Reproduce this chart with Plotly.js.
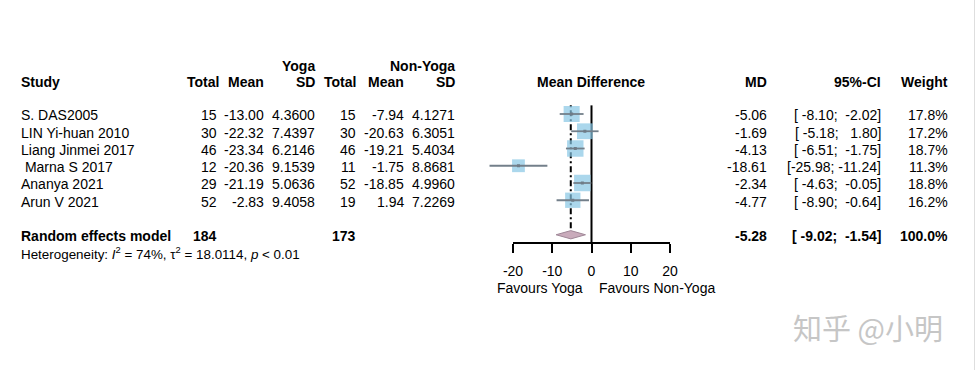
<!DOCTYPE html>
<html>
<head>
<meta charset="utf-8">
<script src="https://cdn.plot.ly/plotly-3.0.1.min.js"></script>
<style>html,body{margin:0;padding:0;background:#fff;}#chart{width:976px;height:370px;}</style>
</head>
<body>
<div id="chart"></div>
<script>
// ---- data ----
const studies = ['S. DAS2005', 'LIN Yi-huan 2010', 'Liang Jinmei 2017', '\u00a0Marna S 2017', 'Ananya 2021', 'Arun V 2021'];
const yogaTotal = [15, 30, 46, 12, 29, 52];
const yogaMean = [-13.00, -22.32, -23.34, -20.36, -21.19, -2.83];
const yogaSD = [4.3600, 7.4397, 6.2146, 9.1539, 5.0636, 9.4058];
const ctrlTotal = [15, 30, 46, 11, 52, 19];
const ctrlMean = [-7.94, -20.63, -19.21, -1.75, -18.85, 1.94];
const ctrlSD = [4.1271, 6.3051, 5.4034, 8.8681, 4.9960, 7.2269];
const md = [-5.06, -1.69, -4.13, -18.61, -2.34, -4.77];
const ciLow = [-8.10, -5.18, -6.51, -25.98, -4.63, -8.90];
const ciHigh = [-2.02, 1.80, -1.75, -11.24, -0.05, -0.64];
const weight = [17.8, 17.2, 18.7, 11.3, 18.8, 16.2];
const pooledMD = -5.28, pooledLow = -9.02, pooledHigh = -1.54, pooledWeight = 100.0;
const totalYoga = 184, totalCtrl = 173;
const xTicks = [-20, -10, 0, 10, 20];
const heterogeneity = 'Heterogeneity: <i>I</i><sup>2</sup> = 74%, \u03c4<sup>2</sup> = 18.0114, <i>p</i> &lt; 0.01';

// ---- layout helpers ----
const W = 976, H = 370;
const axPix = 243;                // pixel row of the x axis
const pxPerUnit = (670 - 513) / 40;
const zeroPx = 591.5;
const xRange = [-zeroPx / pxPerUnit, (W - zeroPx) / pxPerUnit];
const rowPx0 = 114, rowStep = 17.25;
const yTop = 1 - rowPx0 / rowStep;
const yBot = 1 + (axPix - rowPx0) / rowStep;
const rows = studies.map((_, i) => i + 1);
const sumRow = 8;

const FONT = 'Liberation Sans, Arial, sans-serif';
const nb = '\u00a0';
const pad = (s, n) => { s = String(s); while (s.length < n) s = nb + s; return s; };
const f2 = v => v.toFixed(2);
const ci = (lo, hi) => '[' + pad(f2(lo), 6) + ';' + nb + pad(f2(hi), 6) + ']';

const ann = [];
function txt(text, xpx, y, anchor, opt) {
  opt = opt || {};
  ann.push({
    text: text, x: xpx / W, xref: 'paper',
    y: y, yref: opt.yref || 'y',
    xanchor: anchor, yanchor: 'middle', showarrow: false,
    font: {family: opt.family || FONT, size: opt.size || 14, color: opt.color || '#000'},
    borderpad: 0
  });
}
const tr = 0.08; // text baseline nudge
// headers
txt('<b>Yoga</b>', 316, -1.84 + tr, 'right');
txt('<b>Non-Yoga</b>', 456, -1.84 + tr, 'right');
const hr = -0.93 + tr;
txt('<b>Study</b>', 20, hr, 'left');
txt('<b>Total</b>', 220, hr, 'right');
txt('<b>Mean</b>', 265, hr, 'right');
txt('<b>SD</b>', 316, hr, 'right');
txt('<b>Total</b>', 357, hr, 'right');
txt('<b>Mean</b>', 405, hr, 'right');
txt('<b>SD</b>', 456, hr, 'right');
txt('<b>Mean Difference</b>', 591, hr, 'center');
txt('<b>MD</b>', 768, hr, 'right');
txt('<b>95%-CI</b>', 882, hr, 'right');
txt('<b>Weight</b>', 949, hr, 'right');
// study rows
rows.forEach((r, i) => {
  const y = r + tr;
  txt(studies[i], 20, y, 'left');
  txt(String(yogaTotal[i]), 218, y, 'right');
  txt(f2(yogaMean[i]), 265, y, 'right');
  txt(yogaSD[i].toFixed(4), 316, y, 'right');
  txt(String(ctrlTotal[i]), 357, y, 'right');
  txt(f2(ctrlMean[i]), 405, y, 'right');
  txt(ctrlSD[i].toFixed(4), 456, y, 'right');
  txt(f2(md[i]), 768, y, 'right');
  txt(ci(ciLow[i], ciHigh[i]), 882, y, 'right');
  txt(weight[i].toFixed(1) + '%', 949, y, 'right');
});
// summary
const sy = sumRow + tr;
txt('<b>Random effects model</b>', 20, sy, 'left');
txt('<b>' + totalYoga + '</b>', 218, sy, 'right');
txt('<b>' + totalCtrl + '</b>', 357, sy, 'right');
txt('<b>' + f2(pooledMD) + '</b>', 768, sy, 'right');
txt('<b>' + ci(pooledLow, pooledHigh) + '</b>', 882, sy, 'right');
txt('<b>' + pooledWeight.toFixed(1) + '%</b>', 949, sy, 'right');
txt(heterogeneity, 20, 1 - 253 / H, 'left', {yref: 'paper', size: 13.4});
// favours labels
txt('Favours Yoga', 584, 1 - 288 / H, 'right', {yref: 'paper'});
txt('Favours Non-Yoga', 598, 1 - 288 / H, 'left', {yref: 'paper'});
// watermark
txt('知乎 @小明', 792, 1 - 327 / H, 'left', {yref: 'paper', family: 'Noto Sans CJK SC', size: 29, color: '#c6c6c6'});

// ---- traces ----
const boxSize = weight.map(w => 16.5 * Math.sqrt(w / 18.8));
const ciX = [], ciY = [];
rows.forEach((r, i) => { ciX.push(ciLow[i], ciHigh[i], null); ciY.push(r, r, null); });
const dh = 0.24;
const traces = [
  {type: 'scatter', mode: 'markers', x: md, y: rows, hoverinfo: 'skip',
   marker: {symbol: 'square', size: boxSize, color: '#87c6e4', line: {width: 0}}},
  {type: 'scatter', mode: 'lines', x: ciX, y: ciY, hoverinfo: 'skip',
   line: {color: '#737f8a', width: 1.8}},
  {type: 'scatter', mode: 'markers', x: md, y: rows, hoverinfo: 'skip',
   marker: {symbol: 'square', size: 3, color: '#6f7c88'}},
  {type: 'scatter', mode: 'lines', fill: 'toself', hoverinfo: 'skip',
   x: [pooledLow, pooledMD, pooledHigh, pooledMD, pooledLow],
   y: [sumRow, sumRow - dh, sumRow, sumRow + dh, sumRow],
   fillcolor: '#c9abbb', line: {color: '#a08898', width: 1}}
];

const shapes = [
  {type: 'line', xref: 'x', yref: 'y', x0: 0, x1: 0, y0: 0.5, y1: yBot, line: {color: '#000', width: 2}, layer: 'below'},
  {type: 'line', xref: 'x', yref: 'y', x0: pooledMD, x1: pooledMD, y0: 0.5, y1: sumRow - dh - 0.05, line: {color: '#000', width: 2, dash: '2px,3px,6px,3px'}, layer: 'below'},
  {type: 'line', xref: 'x', yref: 'y domain', x0: xTicks[0], x1: xTicks[xTicks.length - 1], y0: 0, y1: 0, line: {color: '#000', width: 2}},
  {type: 'line', xref: 'paper', yref: 'paper', x0: 974.5 / W, x1: 974.5 / W, y0: 0, y1: 1, line: {color: '#dedede', width: 1}}
];

const layout = {
  width: W, height: H,
  margin: {l: 0, r: 0, t: 0, b: 0, pad: 0},
  paper_bgcolor: '#fff', plot_bgcolor: 'rgba(0,0,0,0)',
  showlegend: false,
  font: {family: FONT, size: 14, color: '#000'},
  xaxis: {domain: [0, 1], range: xRange, tickvals: xTicks, ticktext: xTicks.map(String),
          ticks: 'outside', ticklen: 9, tickwidth: 2, tickcolor: '#000',
          showline: false, showgrid: false, zeroline: false, fixedrange: true,
          tickfont: {family: FONT, size: 14, color: '#000'}, ticklabelstandoff: 6},
  yaxis: {domain: [(H - axPix) / H, 1], range: [yBot, yTop], visible: false, fixedrange: true},
  shapes: shapes,
  annotations: ann
};
Plotly.newPlot('chart', traces, layout, {staticPlot: true, displayModeBar: false});
</script>
</body>
</html>
